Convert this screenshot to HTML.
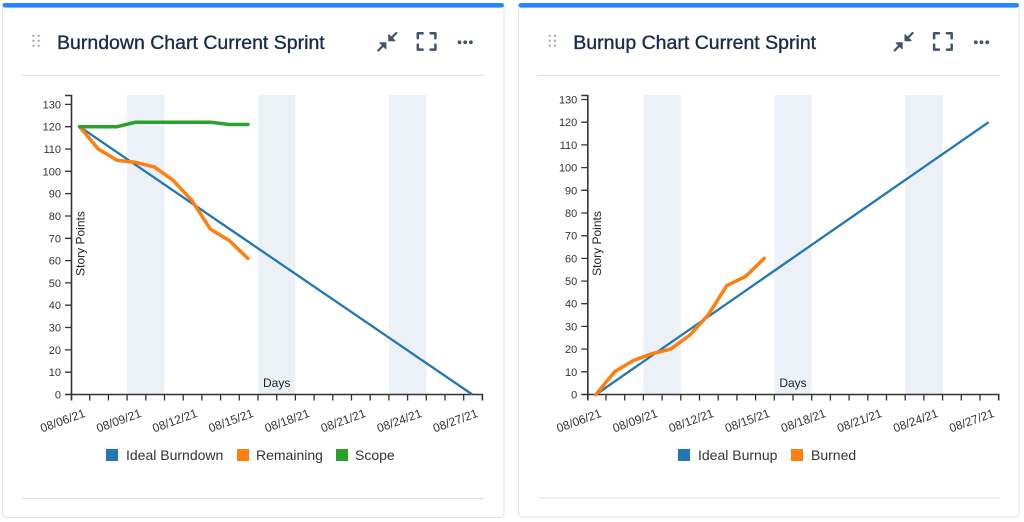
<!DOCTYPE html>
<html>
<head>
<meta charset="utf-8">
<style>
  html, body { margin:0; padding:0; background:#ffffff; }
  body { width:1024px; height:522px; overflow:hidden; }
  svg { display:block; font-family:"Liberation Sans", Arial, sans-serif; }
  .tl { font-size:11px; fill:#333; }
  .xl { font-size:12px; fill:#333; }
  .at { font-size:12px; fill:#222; }
  .lg { font-size:14px; fill:#333; }
  .title { font-size:19.5px; fill:#172b4d; stroke:#172b4d; stroke-width:0.35; }
</style>
</head>
<body>
<svg width="1024" height="522" viewBox="0 0 1024 522" xmlns="http://www.w3.org/2000/svg">
  <!-- ===== Cards ===== -->
  <rect x="2.5" y="3.5" width="501.5" height="514" rx="4" fill="#fff" stroke="#dfe1e6"/>
  <rect x="2.5" y="3" width="501.5" height="4.6" rx="2.5" fill="#2684ff"/>
  <rect x="518.5" y="3.5" width="500.5" height="513.5" rx="4" fill="#fff" stroke="#dfe1e6"/>
  <rect x="518.5" y="3" width="500.5" height="4.6" rx="2.5" fill="#2684ff"/>

  <!-- ===== Left header ===== -->
  <g fill="#a5adba">
    <circle cx="33.5" cy="35.8" r="1.2"/><circle cx="38.7" cy="35.8" r="1.2"/>
    <circle cx="33.5" cy="40.8" r="1.2"/><circle cx="38.7" cy="40.8" r="1.2"/>
    <circle cx="33.5" cy="45.8" r="1.2"/><circle cx="38.7" cy="45.8" r="1.2"/>
  </g>
  <text class="title" x="57" y="49">Burndown Chart Current Sprint</text>
  <g stroke="#42526e" fill="#42526e" stroke-width="2.2" stroke-linecap="round" stroke-linejoin="round">
    <path d="M396.3,33 L391,38.3" fill="none"/>
    <path d="M388.8,34.8 L388.8,40.6 L394.6,40.6 Z" stroke-width="1.2"/>
    <path d="M378.3,50.5 L383.6,45.2" fill="none"/>
    <path d="M380,42.8 L385.8,42.8 L385.8,48.6 Z" stroke-width="1.2"/>
  </g>
  <path d="M417.8,38.2 V33.2 H422.6 M430.6,33.2 H435.4 V38.2 M435.4,44.6 V49.6 H430.6 M422.6,49.6 H417.8 V44.6" fill="none" stroke="#42526e" stroke-width="2.5" stroke-linecap="round" stroke-linejoin="round"/>
  <g fill="#42526e">
    <circle cx="459.5" cy="42.3" r="1.9"/><circle cx="465.2" cy="42.3" r="1.9"/><circle cx="470.9" cy="42.3" r="1.9"/>
  </g>
  <line x1="22" y1="75.5" x2="484" y2="75.5" stroke="#dcdfe4" stroke-width="1"/>
  <line x1="22" y1="498.5" x2="484" y2="498.5" stroke="#dcdfe4" stroke-width="1"/>

  <!-- ===== Right header ===== -->
  <g fill="#a5adba">
    <circle cx="549.8" cy="35.8" r="1.2"/><circle cx="555" cy="35.8" r="1.2"/>
    <circle cx="549.8" cy="40.8" r="1.2"/><circle cx="555" cy="40.8" r="1.2"/>
    <circle cx="549.8" cy="45.8" r="1.2"/><circle cx="555" cy="45.8" r="1.2"/>
  </g>
  <text class="title" x="573.3" y="49">Burnup Chart Current Sprint</text>
  <g transform="translate(516.3,0)">
    <g stroke="#42526e" fill="#42526e" stroke-width="2.2" stroke-linecap="round" stroke-linejoin="round">
      <path d="M396.3,33 L391,38.3" fill="none"/>
      <path d="M388.8,34.8 L388.8,40.6 L394.6,40.6 Z" stroke-width="1.2"/>
      <path d="M378.3,50.5 L383.6,45.2" fill="none"/>
      <path d="M380,42.8 L385.8,42.8 L385.8,48.6 Z" stroke-width="1.2"/>
    </g>
    <path d="M417.8,38.2 V33.2 H422.6 M430.6,33.2 H435.4 V38.2 M435.4,44.6 V49.6 H430.6 M422.6,49.6 H417.8 V44.6" fill="none" stroke="#42526e" stroke-width="2.5" stroke-linecap="round" stroke-linejoin="round"/>
    <g fill="#42526e">
      <circle cx="459.5" cy="42.3" r="1.9"/><circle cx="465.2" cy="42.3" r="1.9"/><circle cx="470.9" cy="42.3" r="1.9"/>
    </g>
  </g>
  <line x1="538" y1="75.5" x2="1000" y2="75.5" stroke="#dcdfe4" stroke-width="1"/>
  <line x1="538" y1="498" x2="1000" y2="498" stroke="#dcdfe4" stroke-width="1"/>

  <!-- ===== Left chart ===== -->
  <g transform="translate(71,0)">
    <rect x="56.1" y="95" width="37.4" height="299.5" fill="#ecf1f8"/>
    <rect x="187" y="95" width="37.4" height="299.5" fill="#ecf1f8"/>
    <rect x="317.9" y="95" width="37.4" height="299.5" fill="#ecf1f8"/>

    <path d="M-6,95.5 H0.5 V394.5 H-6" fill="none" stroke="#333" stroke-width="1.6"/>
    <path d="M-6,372.2H0 M-6,349.9H0 M-6,327.5H0 M-6,305.2H0 M-6,282.9H0 M-6,260.6H0 M-6,238.3H0 M-6,216H0 M-6,193.6H0 M-6,171.3H0 M-6,149H0 M-6,126.7H0 M-6,104.4H0" stroke="#333" stroke-width="1.3"/>
    <g class="tl" text-anchor="end">
      <text x="-10" y="398.5">0</text>
      <text x="-10" y="376.2">10</text>
      <text x="-10" y="353.9">20</text>
      <text x="-10" y="331.5">30</text>
      <text x="-10" y="309.2">40</text>
      <text x="-10" y="286.9">50</text>
      <text x="-10" y="264.6">60</text>
      <text x="-10" y="242.3">70</text>
      <text x="-10" y="220">80</text>
      <text x="-10" y="197.6">90</text>
      <text x="-10" y="175.3">100</text>
      <text x="-10" y="153">110</text>
      <text x="-10" y="130.7">120</text>
      <text x="-10" y="108.4">130</text>
    </g>
    <path d="M0.5,400.5 V394.5 H411.4 V400.5" fill="none" stroke="#333" stroke-width="1.6"/>
    <path d="M18.7,394.5v6 M37.4,394.5v6 M56.1,394.5v6 M74.8,394.5v6 M93.5,394.5v6 M112.2,394.5v6 M130.9,394.5v6 M149.6,394.5v6 M168.3,394.5v6 M187,394.5v6 M205.7,394.5v6 M224.4,394.5v6 M243.1,394.5v6 M261.8,394.5v6 M280.5,394.5v6 M299.2,394.5v6 M317.9,394.5v6 M336.6,394.5v6 M355.3,394.5v6 M374,394.5v6 M392.7,394.5v6" stroke="#333" stroke-width="1.3"/>
    <g class="xl" text-anchor="end">
      <text transform="translate(15,416.5) rotate(-20)">08/06/21</text>
      <text transform="translate(71.1,416.5) rotate(-20)">08/09/21</text>
      <text transform="translate(127.2,416.5) rotate(-20)">08/12/21</text>
      <text transform="translate(183.3,416.5) rotate(-20)">08/15/21</text>
      <text transform="translate(239.4,416.5) rotate(-20)">08/18/21</text>
      <text transform="translate(295.5,416.5) rotate(-20)">08/21/21</text>
      <text transform="translate(351.6,416.5) rotate(-20)">08/24/21</text>
      <text transform="translate(407.7,416.5) rotate(-20)">08/27/21</text>
    </g>
    <text class="at" text-anchor="middle" transform="translate(13.5,243.5) rotate(-90)">Story Points</text>
    <text class="at" text-anchor="middle" x="205.7" y="387">Days</text>

    <path d="M8.6,126.7 L401.3,394.5" fill="none" stroke="#1f77b4" stroke-width="2.3"/>
    <path d="M8.6,126.7 L27.3,149 L46,160.2 L64.7,162.4 L83.4,166.9 L102.1,180.3 L120.8,200.3 L139.5,229.3 L158.2,240.5 L176.9,258.4" fill="none" stroke="#ff7f0e" stroke-width="3.5" stroke-linejoin="round" stroke-linecap="round"/>
    <path d="M8.6,126.7 L27.3,126.7 L46,126.7 L64.7,122.2 L83.4,122.2 L102.1,122.2 L120.8,122.2 L139.5,122.2 L158.2,124.5 L176.9,124.5" fill="none" stroke="#2ca02c" stroke-width="3.5" stroke-linejoin="round" stroke-linecap="round"/>
  </g>

  <rect x="106" y="449" width="12" height="12" fill="#1f77b4"/>
  <text class="lg" x="126" y="460">Ideal Burndown</text>
  <rect x="237" y="449" width="12" height="12" fill="#ff7f0e"/>
  <text class="lg" x="256" y="460">Remaining</text>
  <rect x="336" y="449" width="12" height="12" fill="#2ca02c"/>
  <text class="lg" x="355" y="460">Scope</text>

  <!-- ===== Right chart ===== -->
  <g transform="translate(587.3,0)">
    <rect x="56.1" y="95" width="37.4" height="299.5" fill="#ecf1f8"/>
    <rect x="187" y="95" width="37.4" height="299.5" fill="#ecf1f8"/>
    <rect x="317.9" y="95" width="37.4" height="299.5" fill="#ecf1f8"/>

    <path d="M-6,95.5 H0.5 V394.5 H-6" fill="none" stroke="#333" stroke-width="1.6"/>
    <path d="M-6,371.8H0 M-6,349.1H0 M-6,326.4H0 M-6,303.7H0 M-6,281.1H0 M-6,258.4H0 M-6,235.7H0 M-6,213H0 M-6,190.3H0 M-6,167.6H0 M-6,144.9H0 M-6,122.2H0 M-6,99.5H0" stroke="#333" stroke-width="1.3"/>
    <g class="tl" text-anchor="end">
      <text x="-10" y="398.5">0</text>
      <text x="-10" y="375.8">10</text>
      <text x="-10" y="353.1">20</text>
      <text x="-10" y="330.4">30</text>
      <text x="-10" y="307.7">40</text>
      <text x="-10" y="285.1">50</text>
      <text x="-10" y="262.4">60</text>
      <text x="-10" y="239.7">70</text>
      <text x="-10" y="217">80</text>
      <text x="-10" y="194.3">90</text>
      <text x="-10" y="171.6">100</text>
      <text x="-10" y="148.9">110</text>
      <text x="-10" y="126.2">120</text>
      <text x="-10" y="103.5">130</text>
    </g>
    <path d="M0.5,400.5 V394.5 H411.4 V400.5" fill="none" stroke="#333" stroke-width="1.6"/>
    <path d="M18.7,394.5v6 M37.4,394.5v6 M56.1,394.5v6 M74.8,394.5v6 M93.5,394.5v6 M112.2,394.5v6 M130.9,394.5v6 M149.6,394.5v6 M168.3,394.5v6 M187,394.5v6 M205.7,394.5v6 M224.4,394.5v6 M243.1,394.5v6 M261.8,394.5v6 M280.5,394.5v6 M299.2,394.5v6 M317.9,394.5v6 M336.6,394.5v6 M355.3,394.5v6 M374,394.5v6 M392.7,394.5v6" stroke="#333" stroke-width="1.3"/>
    <g class="xl" text-anchor="end">
      <text transform="translate(15,416.5) rotate(-20)">08/06/21</text>
      <text transform="translate(71.1,416.5) rotate(-20)">08/09/21</text>
      <text transform="translate(127.2,416.5) rotate(-20)">08/12/21</text>
      <text transform="translate(183.3,416.5) rotate(-20)">08/15/21</text>
      <text transform="translate(239.4,416.5) rotate(-20)">08/18/21</text>
      <text transform="translate(295.5,416.5) rotate(-20)">08/21/21</text>
      <text transform="translate(351.6,416.5) rotate(-20)">08/24/21</text>
      <text transform="translate(407.7,416.5) rotate(-20)">08/27/21</text>
    </g>
    <text class="at" text-anchor="middle" transform="translate(13.5,243.5) rotate(-90)">Story Points</text>
    <text class="at" text-anchor="middle" x="205.7" y="387">Days</text>

    <path d="M8.6,394.5 L401.3,122.2" fill="none" stroke="#1f77b4" stroke-width="2.3"/>
    <path d="M8.6,394.5 L27.3,371.8 L46,360.5 L64.7,353.7 L83.4,349.1 L102.1,335.5 L120.8,315.1 L139.5,285.6 L158.2,276.5 L176.9,258.4" fill="none" stroke="#ff7f0e" stroke-width="3.5" stroke-linejoin="round" stroke-linecap="round"/>
  </g>

  <rect x="678" y="449" width="12" height="12" fill="#1f77b4"/>
  <text class="lg" x="698" y="460">Ideal Burnup</text>
  <rect x="791" y="449" width="12" height="12" fill="#ff7f0e"/>
  <text class="lg" x="811" y="460">Burned</text>
</svg>
</body>
</html>
